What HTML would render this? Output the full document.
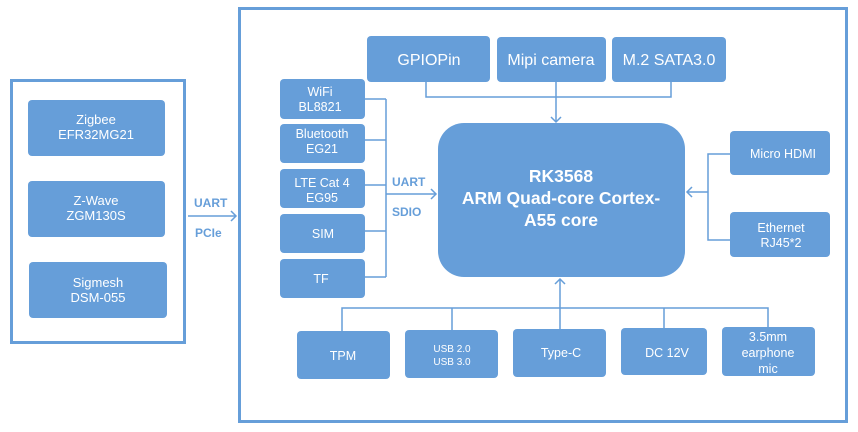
<!DOCTYPE html>
<html><head><meta charset="utf-8"><style>
html,body{margin:0;padding:0;background:#fff;width:858px;height:432px;overflow:hidden}
text{font-family:"Liberation Sans",sans-serif;fill:#fff;text-anchor:middle}
.l{fill:#669ed9;font-weight:bold;font-size:12px;text-anchor:start}
</style></head><body>
<svg width="858" height="432" viewBox="0 0 858 432" xmlns="http://www.w3.org/2000/svg">
<g fill="none" stroke="#669ed9">
<rect x="11.5" y="80.5" width="173" height="262" stroke-width="3"/>
<rect x="239.5" y="8.5" width="607" height="413" stroke-width="3"/>
<g stroke-width="1.5">
<line x1="188" y1="216" x2="236" y2="216"/><polyline points="231,211 236,216 231,221"/>
<polyline points="426,82 426,97 671,97 671,82"/>
<line x1="556" y1="82" x2="556" y2="122"/><polyline points="551,117 556,122 561,117"/>
<polyline points="730,154 708,154 708,240 730,240"/>
<line x1="708" y1="192" x2="687" y2="192"/><polyline points="692,187 687,192 692,197"/>
<line x1="386" y1="99" x2="386" y2="277"/>
<line x1="365" y1="99" x2="386" y2="99"/><line x1="365" y1="140" x2="386" y2="140"/><line x1="365" y1="185" x2="386" y2="185"/><line x1="365" y1="231" x2="386" y2="231"/><line x1="365" y1="277" x2="386" y2="277"/>
<line x1="386" y1="194" x2="436" y2="194"/><polyline points="431,189 436,194 431,199"/>
<polyline points="342,331 342,308 768,308 768,327"/>
<line x1="452" y1="308" x2="452" y2="330"/><line x1="664" y1="308" x2="664" y2="328"/>
<line x1="560" y1="329" x2="560" y2="279"/><polyline points="555,284 560,279 565,284"/>
</g></g>
<g fill="#669ed9">
<rect x="28" y="100" width="137" height="56" rx="4"/>
<rect x="28" y="181" width="137" height="56" rx="4"/>
<rect x="29" y="262" width="138" height="56" rx="4"/>
<rect x="367" y="36" width="123" height="46" rx="4"/>
<rect x="497" y="37" width="109" height="45" rx="4"/>
<rect x="612" y="37" width="114" height="45" rx="4"/>
<rect x="438" y="123" width="247" height="154" rx="26"/>
<rect x="730" y="131" width="100" height="44" rx="4"/>
<rect x="730" y="212" width="100" height="45" rx="4"/>
<rect x="280" y="79" width="85" height="40" rx="4"/>
<rect x="280" y="124" width="85" height="39" rx="4"/>
<rect x="280" y="169" width="85" height="39" rx="4"/>
<rect x="280" y="214" width="85" height="39" rx="4"/>
<rect x="280" y="259" width="85" height="39" rx="4"/>
<rect x="297" y="331" width="93" height="48" rx="4"/>
<rect x="405" y="330" width="93" height="48" rx="4"/>
<rect x="513" y="329" width="93" height="48" rx="4"/>
<rect x="621" y="328" width="86" height="47" rx="4"/>
<rect x="722" y="327" width="93" height="49" rx="4"/>
</g>
<g font-size="13">
<text x="96" y="124">Zigbee</text><text x="96" y="139">EFR32MG21</text>
<text x="96" y="205">Z-Wave</text><text x="96" y="220">ZGM130S</text>
<text x="98" y="287">Sigmesh</text><text x="98" y="302">DSM-055</text>
</g>
<text class="l" x="194" y="207">UART</text><text class="l" x="195" y="237">PCIe</text>
<text class="l" x="392" y="186">UART</text><text class="l" x="392" y="216">SDIO</text>
<g font-size="16"><text x="429" y="65">GPIOPin</text><text x="551" y="65">Mipi camera</text><text x="669" y="65">M.2 SATA3.0</text></g>
<g font-size="17.5" font-weight="bold"><text x="561" y="182">RK3568</text><text x="561" y="204">ARM Quad-core Cortex-</text><text x="561" y="226">A55 core</text></g>
<g font-size="12.5">
<text x="783" y="158">Micro HDMI</text>
<text x="781" y="232">Ethernet</text><text x="781" y="247">RJ45*2</text>
<text x="320" y="96">WiFi</text><text x="320" y="111">BL8821</text>
<text x="322" y="138">Bluetooth</text><text x="322" y="153">EG21</text>
<text x="322" y="187">LTE Cat 4</text><text x="322" y="202">EG95</text>
<text x="323" y="238">SIM</text><text x="321" y="283">TF</text>
<text x="343" y="360">TPM</text>
<text x="561" y="357">Type-C</text><text x="667" y="357">DC 12V</text>
<text x="768" y="341">3.5mm</text><text x="768" y="357">earphone</text><text x="768" y="373">mic</text>
</g>
<g font-size="10"><text x="452" y="352">USB 2.0</text><text x="452" y="365">USB 3.0</text></g>
</svg>
</body></html>
